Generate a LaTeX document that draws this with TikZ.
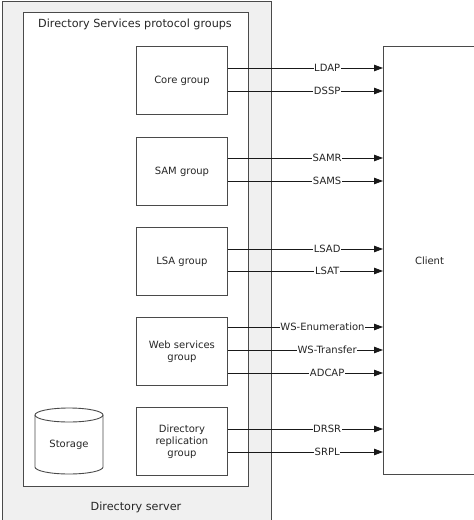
\documentclass[tikz,border=0pt]{standalone}
\usepackage{fontspec}
\setmainfont{DejaVu Sans}
\usetikzlibrary{arrows.meta}
\definecolor{bandgray}{HTML}{F0F0F0}
\definecolor{edge}{HTML}{4A4A4A}
\begin{document}
\begin{tikzpicture}[x=1pt,y=-1pt,
  every node/.style={font=\fontsize{10}{12}\selectfont, text=black!85},
  title/.style={font=\fontsize{11.2}{13}\selectfont},
  grpbox/.style={draw=edge, line width=0.9pt, fill=white, minimum width=91pt, minimum height=68pt, anchor=north west, align=center, inner sep=0pt},
  conn/.style={draw=black!90, line width=0.8pt, -{Triangle[length=9pt,width=6.5pt]}},
  lbl/.style={fill=white, inner sep=0.6pt, pos=0.64}
]
\useasboundingbox (0,0) rectangle (474,520);
\clip (0,0) rectangle (474,520);
% outer directory server
\node[draw=edge, line width=1pt, fill=bandgray, minimum width=269pt, minimum height=540pt, anchor=north west, inner sep=0pt] (server) at (2,0.5) {};
\node[title] (servertxt) at (136,507) {Directory server};
% inner group box
\node[draw=edge, line width=0.9pt, fill=white, minimum width=225pt, minimum height=474pt, anchor=north west, inner sep=0pt] (dsgroups) at (23,12) {};
\node[title] (dstitle) at (135,24) {Directory Services protocol groups};
% groups
\node[grpbox] (core) at (136,46) {Core group};
\node[grpbox] (sam) at (136,137) {SAM group};
\node[grpbox] (lsa) at (136,227) {LSA group};
\node[grpbox] (web) at (136,317) {Web services\\group};
\node[grpbox] (drep) at (136,407) {Directory\\replication\\group};
% storage cylinder
\draw[edge, line width=0.9pt, fill=white] (35,415) -- (35,467) arc[start angle=180, end angle=0, x radius=34, y radius=7] -- (103,415) arc[start angle=0, end angle=-180, x radius=34, y radius=7] -- cycle;
\draw[edge, line width=0.9pt] (35,415) arc[start angle=180, end angle=0, x radius=34, y radius=7];
\node (storage) at (69,445) {Storage};
% client
\node[draw=edge, line width=1pt, fill=white, minimum width=92pt, minimum height=428pt, anchor=north west, inner sep=0pt] (client) at (383,46) {Client};
% connectors
\draw[conn] (core.east |- 0,68) -- node[lbl]{LDAP} (client.west |- 0,68);
\draw[conn] (core.east |- 0,91) -- node[lbl]{DSSP} (client.west |- 0,91);
\draw[conn] (sam.east |- 0,158) -- node[lbl]{SAMR} (client.west |- 0,158);
\draw[conn] (sam.east |- 0,181) -- node[lbl]{SAMS} (client.west |- 0,181);
\draw[conn] (lsa.east |- 0,249) -- node[lbl]{LSAD} (client.west |- 0,249);
\draw[conn] (lsa.east |- 0,271) -- node[lbl]{LSAT} (client.west |- 0,271);
\draw[conn] (web.east |- 0,327) -- node[lbl, pos=0.61]{WS-Enumeration} (client.west |- 0,327);
\draw[conn] (web.east |- 0,350) -- node[lbl]{WS-Transfer} (client.west |- 0,350);
\draw[conn] (web.east |- 0,373) -- node[lbl]{ADCAP} (client.west |- 0,373);
\draw[conn] (drep.east |- 0,429) -- node[lbl]{DRSR} (client.west |- 0,429);
\draw[conn] (drep.east |- 0,452) -- node[lbl]{SRPL} (client.west |- 0,452);
\end{tikzpicture}
\end{document}
